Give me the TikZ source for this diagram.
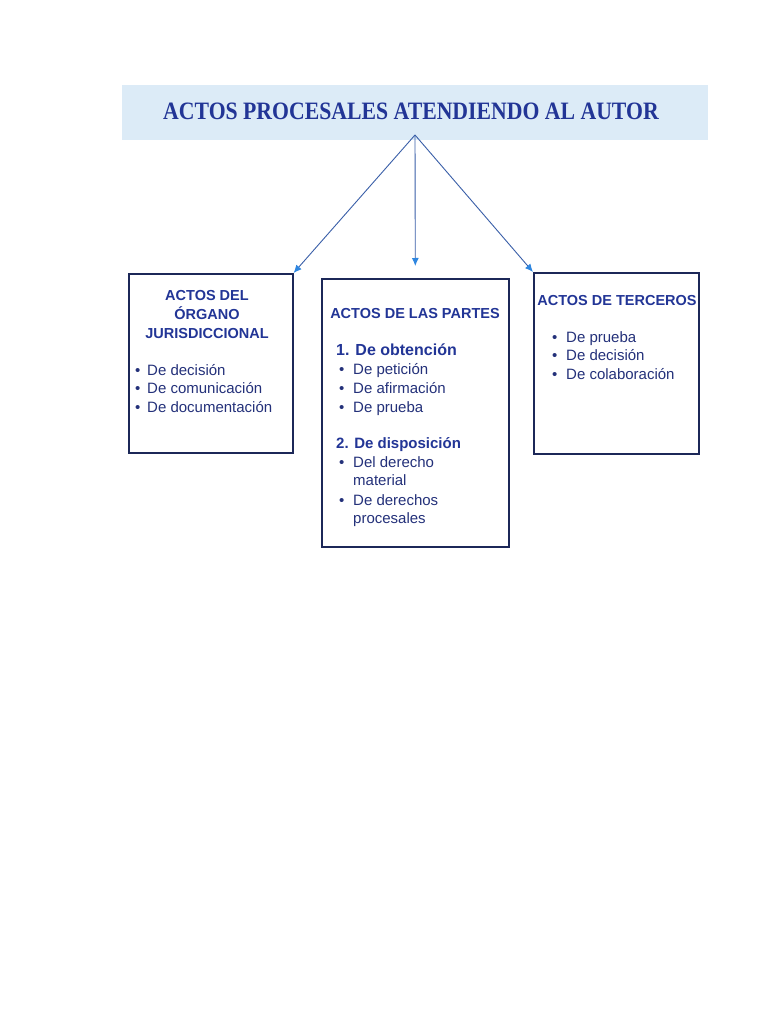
\documentclass[tikz,border=0pt]{standalone}
\usepackage{fontspec}
\usepackage{graphicx}
\setmainfont{Liberation Sans}
\newfontfamily\serifo{Liberation Serif}
\usetikzlibrary{arrows.meta,positioning}
\definecolor{tinta}{HTML}{24317A}
\definecolor{azul}{HTML}{223596}
\definecolor{linea}{HTML}{3A5FA8}
\definecolor{punta}{HTML}{2E86E0}
\definecolor{banda}{HTML}{DCEBF7}
\definecolor{marco}{HTML}{1C2858}
\newcommand{\vin}[1][14pt]{\makebox[#1][l]{\textbullet}}

\begin{document}
\begin{tikzpicture}[x=1pt,y=-1pt,
    caja/.style={draw=marco,line width=1.6pt,anchor=north west,inner sep=0},
    cab/.style={font=\bfseries\fontsize{14.5}{19}\selectfont,text=azul,anchor=base,inner sep=0},
    item/.style={font=\fontsize{15}{18}\selectfont,text=tinta,anchor=base west,inner sep=0},
    num/.style={item,font=\bfseries\fontsize{16}{18}\selectfont,text=azul},
    flecha/.style={draw=linea,line width=0.9pt,-{Latex[length=8pt,width=7pt,color=punta]}}]
\useasboundingbox (0,0) rectangle (768,1024);
\fill[white] (0,0) rectangle (768,1024);
% titulo
\node[fill=banda,minimum width=586,minimum height=55,anchor=north west] (banda) at (122,85) {};
\node[text=azul,font=\serifo\bfseries\fontsize{25}{25}\selectfont,anchor=base] (titulo) at (411,120)
    {\scalebox{0.87}[1]{ACTOS PROCESALES ATENDIENDO AL AUTOR}};
\coordinate (origen) at (415,135);
% cajas
\node[caja,minimum width=164,minimum height=179] (organo) at (128,273) {};
\node[caja,minimum width=187,minimum height=268] (partes) at (321,278) {};
\node[caja,minimum width=165,minimum height=181] (terceros) at (533,272) {};
\draw[flecha] (origen) -- (organo.north east);
\draw[flecha] (origen) -- ([yshift=12pt]partes.north);
\draw[flecha] (origen) -- (terceros.north west);
% organo jurisdiccional
\foreach \t [count=\i] in {ACTOS DEL,ÓRGANO,JURISDICCIONAL}
    \node[cab] (organo-cab\i) at (207,281+19*\i) {\t};
\foreach \t [count=\i] in {De decisión,De comunicación,De documentación}
    \node[item] (organo\i) at (135,356.5+18.5*\i) {\vin[12pt]\t};
% partes
\node[cab] (partes-cab) at (415,318) {ACTOS DE LAS PARTES};
\node[num] (obtencion) at (336,355) {1. De obtención};
\foreach \t [count=\i] in {De petición,De afirmación,De prueba}
    \node[item] (obtencion\i) at (339,355+19*\i) {\vin\t};
\node[num,font=\bfseries\fontsize{15}{18}\selectfont] (disposicion) at (336,448) {2. De disposición};
\node[item] (disposicion1) at (339,467) {\vin Del derecho};
\node[item] (disposicion1b) at (353,485) {material};
\node[item] (disposicion2) at (339,505) {\vin De derechos};
\node[item] (disposicion2b) at (353,523) {procesales};
% terceros
\node[cab] (terceros-cab) at (617,305) {ACTOS DE TERCEROS};
\foreach \t [count=\i] in {De prueba,De decisión,De colaboración}
    \node[item] (terceros\i) at (552,323.5+18.5*\i) {\vin\t};
\end{tikzpicture}
\end{document}
